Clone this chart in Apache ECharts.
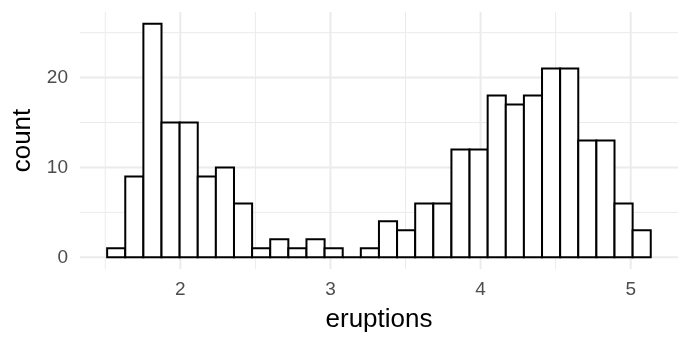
<!DOCTYPE html>
<html><head><meta charset="utf-8">
<script src="https://cdn.jsdelivr.net/npm/echarts@6/dist/echarts.min.js"></script>
<style>html,body{margin:0;padding:0;background:#fff}#c{width:691px;height:345px}</style>
</head><body><div id="c"></div>
<script>
// Histogram of eruptions (30 bins)
const binStart = 1.5128;
const binWidth = 0.12069;
const counts = [1, 9, 26, 15, 15, 9, 10, 6, 1, 2, 1, 2, 1, 0, 1, 4, 3, 6, 6, 12, 12, 18, 17, 18, 21, 21, 13, 13, 6, 3];
const xTickLabels = [2, 3, 4, 5];
const xMinorBreaks = [1.5, 2.5, 3.5, 4.5];
const yTickLabels = [0, 10, 20];
const yMinorBreaks = [5, 15, 25];
const xRange = [1.332, 5.315];
const yRange = [-1.3, 27.3];

const FONT = '"Liberation Sans", Arial, Helvetica, sans-serif';
const GRID_COLOR = '#EBEBEB';

const barData = counts.map((c, i) => [binStart + i * binWidth, binStart + (i + 1) * binWidth, c]);
// [value, orientation (0 = vertical line at x, 1 = horizontal line at y), width]
const gridData = []
  .concat(xMinorBreaks.map(v => [v, 0, 1]))
  .concat(yMinorBreaks.map(v => [v, 1, 1]))
  .concat(xTickLabels.map(v => [v, 0, 2]))
  .concat(yTickLabels.map(v => [v, 1, 2]));

const chart = echarts.init(document.getElementById('c'), null, {renderer: 'canvas'});
chart.setOption({
  animation: false,
  backgroundColor: '#fff',
  grid: {left: 80, right: 13, top: 12, bottom: 76, containLabel: false},
  xAxis: {
    type: 'value', min: xRange[0], max: xRange[1],
    axisLine: {show: false}, axisTick: {show: false}, splitLine: {show: false},
    axisLabel: {customValues: xTickLabels, color: '#4D4D4D', fontSize: 19, fontFamily: FONT, margin: 11},
    name: 'eruptions', nameLocation: 'middle', nameGap: 38,
    nameTextStyle: {color: '#000', fontSize: 26, fontFamily: FONT}
  },
  yAxis: {
    type: 'value', min: yRange[0], max: yRange[1],
    axisLine: {show: false}, axisTick: {show: false}, splitLine: {show: false},
    axisLabel: {customValues: yTickLabels, color: '#4D4D4D', fontSize: 19, fontFamily: FONT, margin: 12},
    name: 'count', nameLocation: 'middle', nameGap: 42, nameRotate: 90,
    nameTextStyle: {color: '#000', fontSize: 26, fontFamily: FONT}
  },
  series: [
    {
      type: 'custom', z: 1, silent: true, clip: false,
      data: gridData,
      encode: {x: 0},
      renderItem: function (params, api) {
        const v = api.value(0), o = api.value(1), w = api.value(2);
        let p1, p2;
        if (o === 0) { p1 = api.coord([v, yRange[0]]); p2 = api.coord([v, yRange[1]]); }
        else { p1 = api.coord([xRange[0], v]); p2 = api.coord([xRange[1], v]); }
        return {type: 'line', shape: {x1: p1[0], y1: p1[1], x2: p2[0], y2: p2[1]},
          style: {stroke: GRID_COLOR, lineWidth: w}};
      }
    },
    {
      type: 'custom', z: 2, silent: true,
      data: barData,
      encode: {x: [0, 1], y: 2},
      renderItem: function (params, api) {
        const a = api.coord([api.value(0), 0]);
        const b = api.coord([api.value(1), api.value(2)]);
        return {type: 'rect', shape: {x: a[0], y: b[1], width: b[0] - a[0], height: a[1] - b[1]},
          style: {fill: '#fff', stroke: '#000', lineWidth: 2}};
      }
    }
  ]
});
</script>
</body></html>
